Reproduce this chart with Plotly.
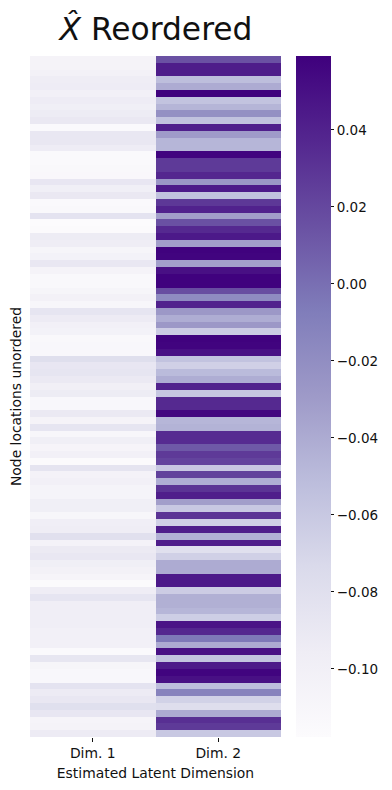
import plotly.graph_objects as go

dim_labels = ["Dim. 1", "Dim. 2"]

dim1 = [-.105,-.105,-.102,-.096,-.095,-.100,-.095,-.098,-.094,-.090,
        -.114,-.089,-.089,-.095,-.114,-.114,-.113,-.112,-.088,-.098,
        -.090,-.114,-.113,-.084,-.117,-.116,-.094,-.096,-.108,-.103,
        -.089,-.105,-.113,-.113,-.108,-.102,-.110,-.086,-.093,-.100,
        -.103,-.113,-.111,-.111,-.079,-.088,-.086,-.091,-.099,-.094,
        -.111,-.111,-.091,-.105,-.086,-.110,-.098,-.107,-.101,-.116,
        -.085,-.104,-.100,-.106,-.106,-.098,-.098,-.110,-.097,-.096,
        -.081,-.104,-.092,-.089,-.098,-.102,-.107,-.116,-.096,-.086,
        -.097,-.097,-.097,-.097,-.101,-.101,-.100,-.114,-.087,-.108,
        -.111,-.111,-.084,-.093,-.089,-.080,-.088,-.107,-.105,-.093]

dim2 = [.015,.043,.043,-.052,-.040,.058,-.056,-.046,-.022,-.055,
        .042,-.030,-.047,-.047,.057,.027,.027,.037,-.026,.045,
        -.055,.028,.040,-.032,.015,.036,.045,-.032,.058,.057,
        -.033,.050,.058,.058,.017,-.018,.040,-.028,-.041,-.028,
        -.063,.058,.057,.050,-.056,-.066,-.050,-.041,.040,-.059,
        .036,.036,.055,-.047,-.045,.035,.035,.011,.027,.022,
        -.060,.023,-.042,.030,.042,-.032,-.060,.030,-.066,.042,
        -.044,.042,-.080,-.066,-.040,-.040,.045,.045,-.063,-.043,
        -.043,-.047,-.064,.048,.037,-.005,-.040,.050,-.056,.045,
        .057,.050,-.052,-.012,-.067,-.078,-.040,.033,.027,-.060]

rows = list(range(len(dim1)))
z_values = [[a, b] for a, b in zip(dim1, dim2)]
z_min, z_max = -0.1177, 0.0592
cbar_ticks = [0.04, 0.02, 0.0, -0.02, -0.04, -0.06, -0.08, -0.10]

purples = ["#fcfbfd", "#efedf5", "#dadaeb", "#bcbddc", "#9e9ac8",
           "#807dba", "#6a51a3", "#54278f", "#3f007d"]
colorscale = [[i / 8, c] for i, c in enumerate(purples)]

FONT = "DejaVu Sans"
INK = "#111111"
SIZE = 13.9
W, H = 392, 790
L, R, T, B = 30, 281, 56, 737

fig = go.Figure(go.Heatmap(
    z=z_values, x=dim_labels, y=rows, zmin=z_min, zmax=z_max,
    colorscale=colorscale,
    colorbar=dict(
        x=(296 - L) / (R - L), xanchor="left", xref="paper",
        y=0, yanchor="bottom", yref="paper", len=1, lenmode="fraction",
        thickness=35, thicknessmode="pixels", xpad=0, ypad=0,
        outlinewidth=0, tickvals=cbar_ticks, tickformat=".2f",
        ticks="outside", ticklen=3.5, tickwidth=1, tickcolor=INK,
        tickfont=dict(family=FONT, size=13.5, color=INK),
    ),
))

fig.update_layout(
    width=W, height=H, margin=dict(l=L, r=W - R, t=T, b=H - B, pad=0),
    paper_bgcolor="white", plot_bgcolor="white",
    font=dict(family=FONT, size=SIZE, color=INK),
    title=dict(text="<i>X\u0302</i> Reordered", x=156 / W, xanchor="center",
               y=1 - 40 / H, yanchor="bottom",
               font=dict(family=FONT, size=31.3, color=INK)),
)
fig.update_xaxes(
    showgrid=False, zeroline=False, showline=False, ticks="outside", ticklen=3.5,
    tickwidth=1, tickcolor=INK, tickfont=dict(family=FONT, size=SIZE, color=INK),
    title=dict(text="Estimated Latent Dimension", font=dict(family=FONT, size=SIZE, color=INK), standoff=8),
)
fig.update_yaxes(
    autorange="reversed", showgrid=False, zeroline=False, showline=False,
    showticklabels=False, ticks="",
    title=dict(text="Node locations unordered", font=dict(family=FONT, size=SIZE, color=INK), standoff=4),
)
fig.write_html("out.html", config={"displayModeBar": False},
               post_script="document.body.style.margin='0';")
